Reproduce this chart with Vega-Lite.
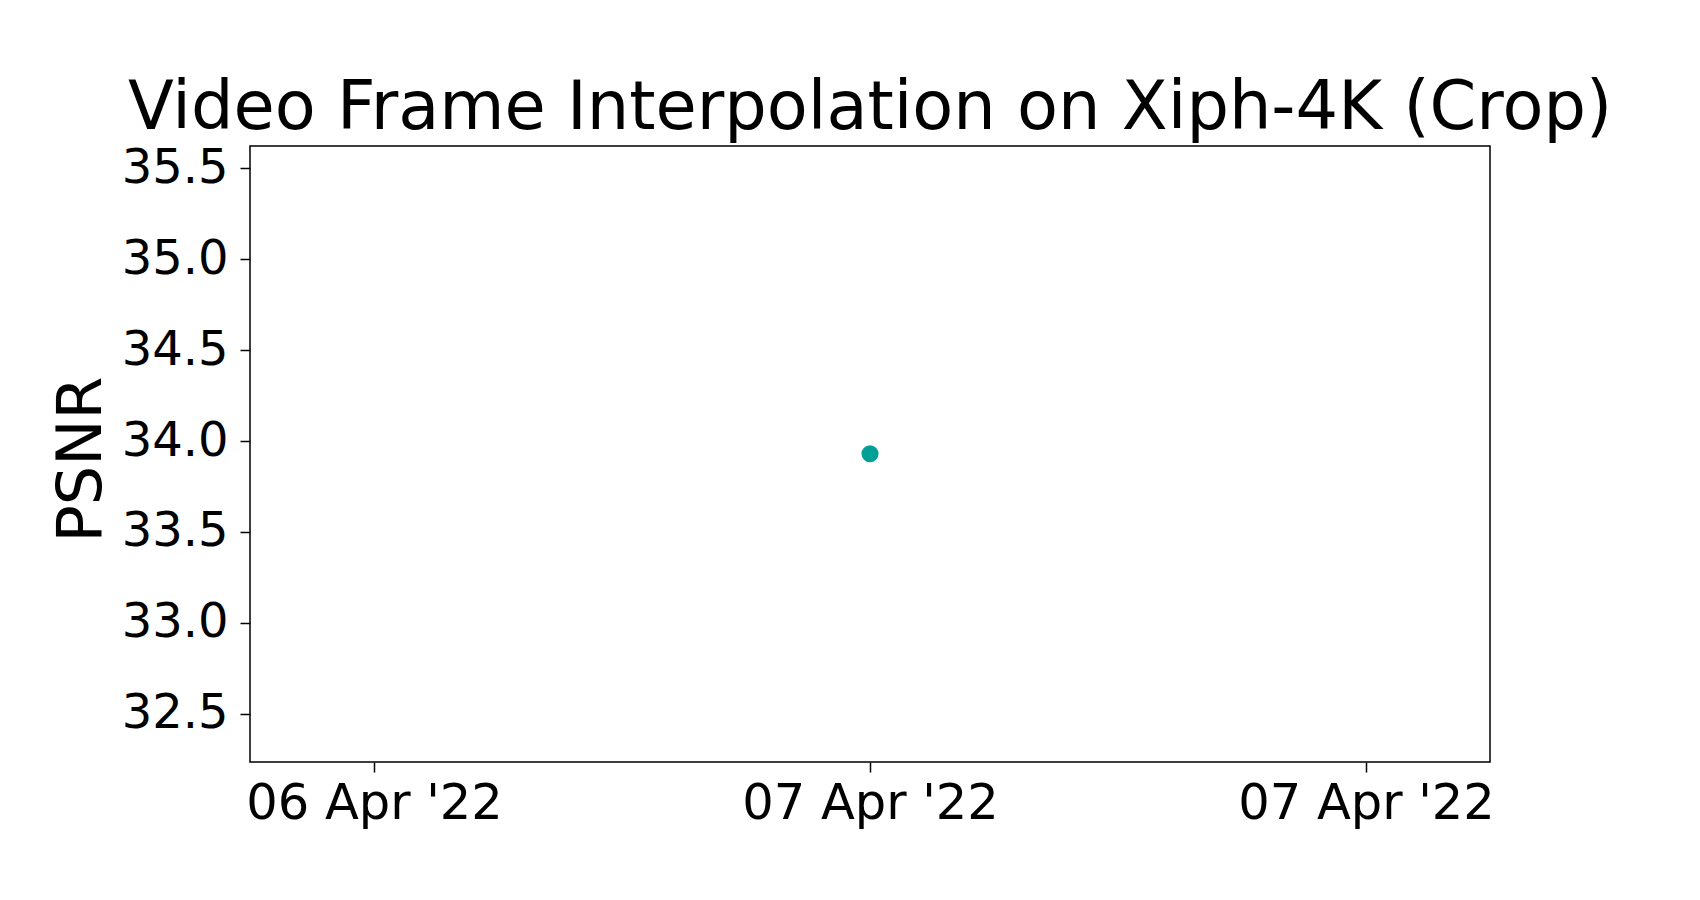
{
  "$schema": "https://vega.github.io/schema/vega-lite/v6.json",
  "autosize": {"type": "none"},
  "width": 1240,
  "height": 616,
  "padding": {"left": 250, "top": 146, "right": 210, "bottom": 138},
  "background": "white",
  "title": {
    "text": "Video Frame Interpolation on Xiph-4K (Crop)",
    "font": "DejaVu Sans",
    "fontSize": 67,
    "fontWeight": "normal",
    "color": "black",
    "anchor": "middle",
    "frame": "group",
    "baseline": "alphabetic",
    "offset": 2,
    "dy": 54
  },
  "config": {
    "view": {"stroke": "black", "strokeWidth": 1.5},
    "axis": {
      "labelFont": "DejaVu Sans",
      "titleFont": "DejaVu Sans",
      "labelColor": "black",
      "titleColor": "black",
      "tickColor": "black",
      "tickWidth": 1.5,
      "tickSize": 10,
      "grid": false,
      "domain": false,
      "labelLimit": 1000
    }
  },
  "data": {
    "values": [
      {"date": "2022-04-07T00:00:00Z", "PSNR": 33.93}
    ]
  },
  "mark": {"type": "point", "filled": true, "opacity": 1, "size": 293, "color": "#00a096", "shape": "circle"},
  "encoding": {
    "x": {
      "field": "date",
      "type": "temporal",
      "scale": {
        "type": "utc",
        "domain": [
          {"year": 2022, "month": "apr", "date": 6, "hours": 9, "utc": true},
          {"year": 2022, "month": "apr", "date": 7, "hours": 15, "utc": true}
        ],
        "nice": false
      },
      "axis": {
        "title": null,
        "values": [
          {"year": 2022, "month": "apr", "date": 6, "hours": 12, "utc": true},
          {"year": 2022, "month": "apr", "date": 7, "hours": 0, "utc": true},
          {"year": 2022, "month": "apr", "date": 7, "hours": 12, "utc": true}
        ],
        "format": "%d %b '%y",
        "labelFontSize": 49.5,
        "labelPadding": 7,
        "labelOverlap": false,
        "labelFlush": false,
        "labelLimit": 1000
      }
    },
    "y": {
      "field": "PSNR",
      "type": "quantitative",
      "scale": {"domain": [32.234, 35.623], "nice": false, "zero": false},
      "axis": {
        "title": "PSNR",
        "titleFontSize": 62,
        "titleFontWeight": "normal",
        "values": [32.5, 33.0, 33.5, 34.0, 34.5, 35.0, 35.5],
        "format": ".1f",
        "labelFontSize": 48,
        "labelPadding": 12,
        "labelOverlap": false,
        "labelFlush": false,
        "titleX": -150,
        "titleY": 313,
        "titleBaseline": "alphabetic",
        "titleAlign": "center",
        "titleAngle": -90
      }
    }
  }
}
